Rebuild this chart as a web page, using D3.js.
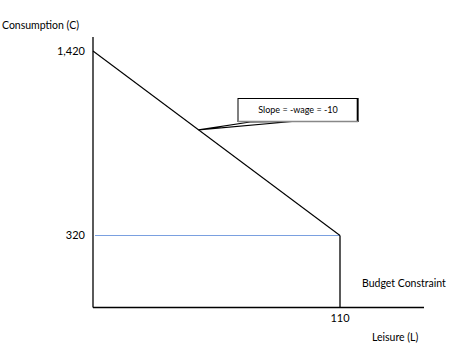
<!DOCTYPE html>
<html><head><meta charset="utf-8">
<script src="https://cdn.jsdelivr.net/npm/d3@7"></script>
<style>body{margin:0;background:#fff}svg{display:block}text{font-family:Lato,"Open Sans",sans-serif;font-size:10.5px;fill:#000}</style>
</head><body>
<svg id="c" width="450" height="351"></svg>
<script>
const leisure = [0, 110];
const consumption = [1420, 320];
const xTicks = [110];
const yTicks = [1420, 320];
const yLabel = "Consumption (C)";
const xLabel = "Leisure (L)";
const curveLabel = "Budget Constraint";
const note = "Slope = -wage = -10";
const noteAtLeisure = 47;

const svg = d3.select("#c");
const x = d3.scaleLinear().domain([0, 110]).range([93, 340]);
const y = d3.scaleLinear().domain([320, 1420]).range([235.5, 51]);
const x0 = 93, yBase = 307.5, xEnd = 424, yTop = 37;

svg.append("line").attr("x1", x0).attr("x2", x0).attr("y1", yTop).attr("y2", yBase).attr("stroke", "#000").attr("stroke-width", 1.3);
svg.append("line").attr("x1", x0).attr("x2", xEnd).attr("y1", yBase).attr("y2", yBase).attr("stroke", "#000").attr("stroke-width", 1.5);

svg.append("line").attr("x1", x0 + 2).attr("x2", x(110)).attr("y1", y(320)).attr("y2", y(320)).attr("stroke", "#7aa0e0").attr("stroke-width", 1);

const pts = leisure.map((l, i) => [x(l), y(consumption[i])]);
svg.append("path").attr("d", d3.line()(pts)).attr("fill", "none").attr("stroke", "#000").attr("stroke-width", 1.1);
svg.append("line").attr("x1", x(110)).attr("x2", x(110)).attr("y1", y(320)).attr("y2", yBase).attr("stroke", "#000").attr("stroke-width", 1.3);

svg.selectAll(".yt").data(yTicks).enter().append("text")
  .attr("x", 85).attr("y", d => y(d)).attr("dy", "0.35em").attr("text-anchor", "end").style("font-size", "11px").text(d => d3.format(",")(d));
svg.selectAll(".xt").data(xTicks).enter().append("text")
  .attr("x", d => x(d)).attr("y", 322).attr("text-anchor", "middle").style("font-size", "11px").text(d => d);

svg.append("text").attr("x", 2).attr("y", 29).text(yLabel);
svg.append("text").attr("x", 372).attr("y", 341).text(xLabel);
svg.append("text").attr("x", 362).attr("y", 287).text(curveLabel);

// callout
const tip = [x(noteAtLeisure), y(1420 - 10 * noteAtLeisure)];
svg.append("path").attr("d", d3.line()([tip, [250, 122], [292, 121.5], tip]))
  .attr("fill", "#fff").attr("stroke", "#000").attr("stroke-width", 1.1);
svg.append("rect").attr("x", 238).attr("y", 98.5).attr("width", 120).attr("height", 23)
  .attr("fill", "#fff").attr("stroke", "#000").attr("stroke-width", 1);
svg.append("line").attr("x1", 357.5).attr("x2", 357.5).attr("y1", 98).attr("y2", 122).attr("stroke", "#000").attr("stroke-width", 1.6);
svg.append("line").attr("x1", 238).attr("x2", 358).attr("y1", 121.5).attr("y2", 121.5).attr("stroke", "#888").attr("stroke-width", 1.5);
svg.append("text").attr("x", 298).attr("y", 110).attr("dy", "0.35em").attr("text-anchor", "middle").style("font-size", "9px").text(note);
</script>
</body></html>
